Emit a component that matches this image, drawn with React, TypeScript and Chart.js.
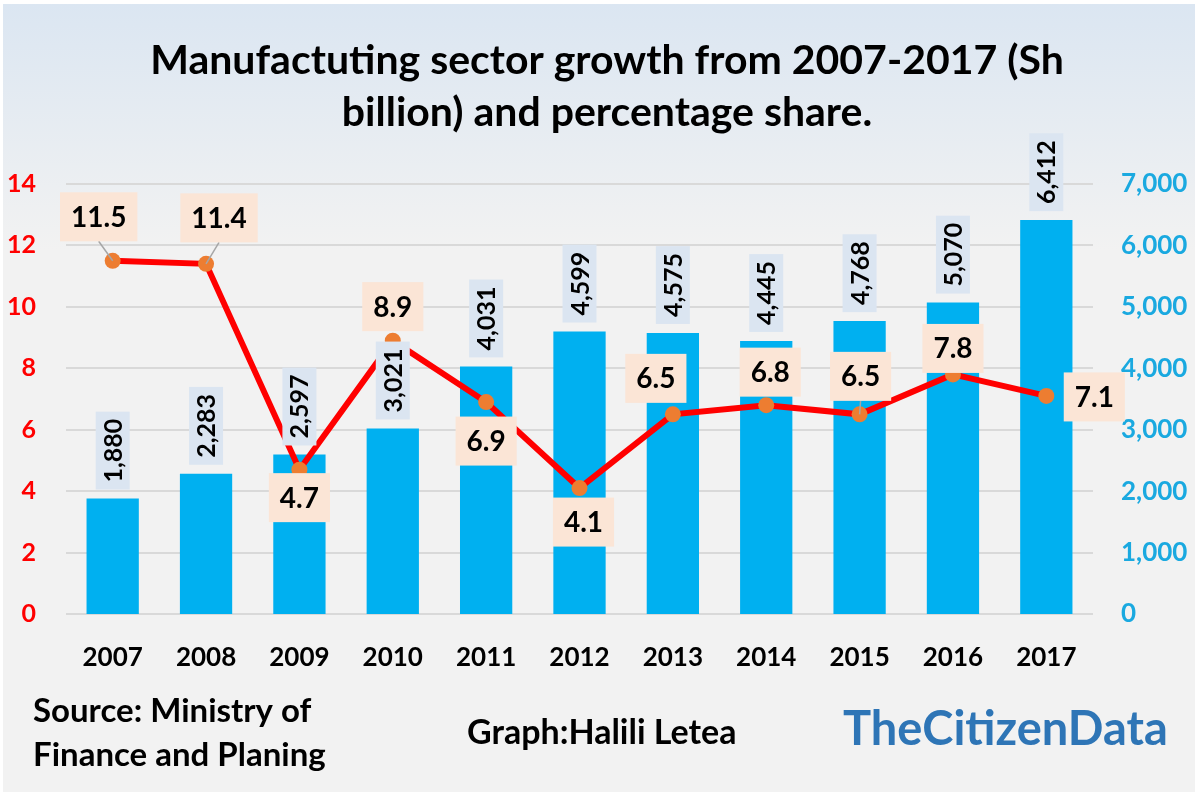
import React, { useEffect, useRef } from 'react';
import { Chart, registerables } from 'chart.js';

Chart.register(...registerables);

const years = ['2007', '2008', '2009', '2010', '2011', '2012', '2013', '2014', '2015', '2016', '2017'];
const outputBillion = [1880, 2283, 2597, 3021, 4031, 4599, 4575, 4445, 4768, 5070, 6412];
const sharePercent = [11.5, 11.4, 4.7, 8.9, 6.9, 4.1, 6.5, 6.8, 6.5, 7.8, 7.1];

const titleLines = ['Manufactuting sector growth from 2007-2017 (Sh', 'billion) and percentage share.'];
const sourceLines = ['Source: Ministry of', 'Finance and Planing'];
const creditText = 'Graph:Halili Letea';
const brandText = 'TheCitizenData';

// label placement (style) for the percentage labels: [dx, dy] from the point
const shareLabelOffsets: number[][] = [
  [-14, -44], [13, -46], [0, 28], [0, -34], [0, 39], [4, 34],
  [-17, -36], [4, -33], [1, -38], [0, -26], [48, 1],
];
const shareLeader = [true, true, false, false, false, false, false, false, true, false, false];

const FONT = 'Lato, "Open Sans", sans-serif';

const decor = {
  id: 'decor',
  beforeDraw(chart: any) {
    const { ctx, width, height } = chart;
    ctx.save();
    ctx.fillStyle = '#ffffff';
    ctx.fillRect(0, 0, width, height);
    const g = ctx.createLinearGradient(0, 4, 0, 250);
    g.addColorStop(0, '#dbe6f2');
    g.addColorStop(1, '#f2f2f2');
    ctx.fillStyle = g;
    ctx.fillRect(3, 4, 1192, 788);
    ctx.restore();
  },
  afterDatasetsDraw(chart: any) {
    const { ctx } = chart;
    ctx.save();
    // bar value labels (rotated)
    const barMeta = chart.getDatasetMeta(0);
    ctx.font = `bold 25px ${FONT}`;
    barMeta.data.forEach((bar: any, i: number) => {
      const txt = outputBillion[i].toLocaleString('en-US');
      const tw = ctx.measureText(txt).width;
      const boxH = tw + 14;
      const boxW = 34;
      const bottom = bar.y - 9;
      ctx.fillStyle = '#dbe5f1';
      ctx.fillRect(bar.x - boxW / 2, bottom - boxH, boxW, boxH);
      ctx.save();
      ctx.translate(bar.x, bottom - boxH / 2);
      ctx.rotate(-Math.PI / 2);
      ctx.fillStyle = '#000000';
      ctx.textAlign = 'center';
      ctx.textBaseline = 'middle';
      ctx.fillText(txt, 0, 1);
      ctx.restore();
    });
    // percentage labels
    const lineMeta = chart.getDatasetMeta(1);
    ctx.font = `bold 28px ${FONT}`;
    lineMeta.data.forEach((pt: any, i: number) => {
      const txt = sharePercent[i].toFixed(1);
      const tw = ctx.measureText(txt).width;
      const bw = tw + 22;
      const bh = 49;
      const [dx, dy] = shareLabelOffsets[i];
      const cx = pt.x + dx;
      const cy = pt.y + dy;
      if (shareLeader[i]) {
        ctx.strokeStyle = '#a6a6a6';
        ctx.lineWidth = 1.5;
        ctx.beginPath();
        ctx.moveTo(cx, cy + bh / 2);
        ctx.lineTo(pt.x, pt.y);
        ctx.stroke();
      }
      ctx.fillStyle = '#fbe5d6';
      ctx.fillRect(cx - bw / 2, cy - bh / 2, bw, bh);
      ctx.fillStyle = '#000000';
      ctx.textAlign = 'center';
      ctx.textBaseline = 'middle';
      ctx.fillText(txt, cx, cy + 1);
    });
    ctx.restore();
  },
  afterDraw(chart: any) {
    const { ctx } = chart;
    ctx.save();
    ctx.fillStyle = '#000000';
    ctx.textAlign = 'center';
    ctx.textBaseline = 'alphabetic';
    ctx.font = `bold 41px ${FONT}`;
    ctx.fillText(titleLines[0], 607, 74);
    ctx.fillText(titleLines[1], 607, 126);
    ctx.textAlign = 'left';
    ctx.font = `bold 33px ${FONT}`;
    ctx.fillText(sourceLines[0], 33, 722);
    ctx.fillText(sourceLines[1], 33, 766);
    ctx.font = `bold 34px ${FONT}`;
    ctx.fillText(creditText, 467, 744);
    ctx.fillStyle = '#2e75b6';
    ctx.font = `bold 47px ${FONT}`;
    ctx.fillText(brandText, 843, 745);
    ctx.restore();
  },
};

export default function App() {
  const ref = useRef<HTMLCanvasElement>(null);
  useEffect(() => {
    if (!ref.current) return;
    const chart = new Chart(ref.current, {
      type: 'bar',
      data: {
        labels: years,
        datasets: [
          {
            type: 'bar',
            label: 'Sh billion',
            data: outputBillion,
            yAxisID: 'y1',
            backgroundColor: '#00b0f0',
            categoryPercentage: 0.56,
            barPercentage: 1,
            order: 2,
          },
          {
            type: 'line',
            label: 'Percentage share',
            data: sharePercent,
            yAxisID: 'y',
            borderColor: '#ff0000',
            borderWidth: 6,
            pointRadius: 8,
            pointBackgroundColor: '#ed7d31',
            pointBorderWidth: 0,
            tension: 0,
            order: 1,
          } as any,
        ],
      },
      options: {
        responsive: false,
        animation: false,
        layout: { padding: { top: 184, left: 0, right: 0, bottom: 0 } },
        plugins: { legend: { display: false }, tooltip: { enabled: false }, title: { display: false } },
        scales: {
          x: {
            grid: { display: false },
            border: { display: false },
            ticks: { color: '#000000', font: { family: FONT, size: 26, weight: 'bold' }, padding: 20 },
            afterFit: (s: any) => { s.height = 186; },
          },
          y: {
            position: 'left',
            min: 0,
            max: 14,
            ticks: { stepSize: 2, color: '#ff0000', font: { family: FONT, size: 25, weight: 'bold' }, padding: 30 },
            grid: { color: '#d9d9d9', lineWidth: 2, drawTicks: false },
            border: { display: false },
            afterFit: (s: any) => { s.width = 66; },
          },
          y1: {
            position: 'right',
            min: 0,
            max: 7000,
            ticks: {
              stepSize: 1000,
              color: '#1aa9e0',
              font: { family: FONT, size: 26, weight: 'bold' },
              padding: 28,
              callback: (v: any) => Number(v).toLocaleString('en-US'),
            },
            grid: { display: false, drawTicks: false },
            border: { display: false },
            afterFit: (s: any) => { s.width = 107; },
          },
        },
      } as any,
      plugins: [decor],
    });
    return () => chart.destroy();
  }, []);
  return (
    <div style={{ position: 'fixed', left: 0, top: 0, width: 1200, height: 800 }}>
      <canvas ref={ref} width={1200} height={800} style={{ display: 'block' }} />
    </div>
  );
}
